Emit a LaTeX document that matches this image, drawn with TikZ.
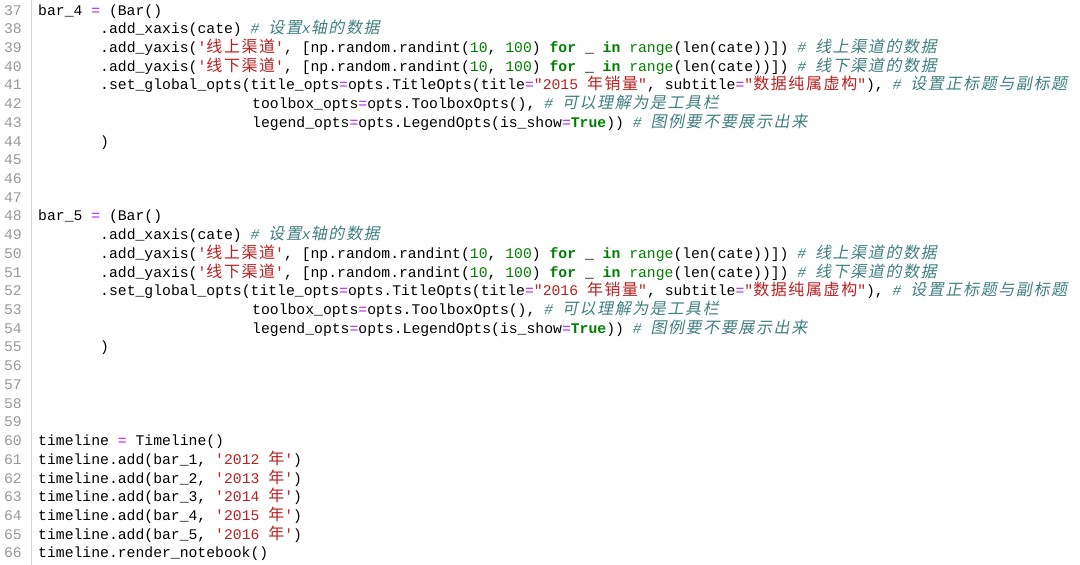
\documentclass[tikz,border=0pt]{standalone}
\usepackage{fontspec}
\setmonofont{Liberation Mono}
\newfontfamily\cjk[LetterSpace=10]{Noto Sans CJK SC}
\newfontfamily\cjki[LetterSpace=10,FakeSlant=0.2]{Noto Sans CJK SC}
\definecolor{cmt}{HTML}{408080}
\definecolor{strc}{HTML}{BA2121}
\definecolor{numc}{HTML}{008000}
\definecolor{kwc}{HTML}{008000}
\definecolor{opc}{HTML}{AA22FF}
\definecolor{lnc}{HTML}{999999}
\newcommand\cm[1]{{\color{cmt}\itshape #1}}
\newcommand\st[1]{{\color{strc}#1}}
\newcommand\nm[1]{{\color{numc}#1}}
\newcommand\kw[1]{{\color{kwc}\bfseries #1}}
\newcommand\bi[1]{{\color{kwc}#1}}
\newcommand\op{{\color{opc}=}}
\newcommand\zh[1]{{\cjk\fontsize{16}{16}\selectfont #1}}
\newcommand\zhi[1]{{\cjki\fontsize{16}{16}\selectfont #1}}
\begin{document}
\begin{tikzpicture}[x=1pt,y=1pt,
  code/.style={anchor=base west,inner sep=0pt,font=\ttfamily\fontsize{14.75}{17}\selectfont},
  lnum/.style={anchor=base east,inner sep=0pt,text=lnc,font=\ttfamily\fontsize{14.75}{17}\selectfont}]
\fill[white] (0,0) rectangle (1080,-565);
\useasboundingbox (0,0) rectangle (1080,-565);
\draw[gray!35,line width=0.8pt] (31,0) -- (31,-565);
\foreach \n in {37,...,66}{
  \node[lnum] (ln\n) at (22,{-15-(\n-37)*18.72}) {\n};
}
\def\X{38}\def\Xa{100}\def\Xb{252}
\newcommand\Y[1]{{-15-(#1-37)*18.72}}
\node[code] (l37) at (\X,\Y{37}) {bar\_4 \op{} (Bar()};
\node[code] (l38) at (\Xa,\Y{38}) {.add\_xaxis(cate) \cm{\# \zhi{设置}x\zhi{轴的数据}}};
\node[code] (l39) at (\Xa,\Y{39}) {.add\_yaxis(\st{'\zh{线上渠道}'}, [np.random.randint(\nm{10}, \nm{100}) \kw{for} \_ \kw{in} \bi{range}(len(cate))]) \cm{\# \zhi{线上渠道的数据}}};
\node[code] (l40) at (\Xa,\Y{40}) {.add\_yaxis(\st{'\zh{线下渠道}'}, [np.random.randint(\nm{10}, \nm{100}) \kw{for} \_ \kw{in} \bi{range}(len(cate))]) \cm{\# \zhi{线下渠道的数据}}};
\node[code] (l41) at (\Xa,\Y{41}) {.set\_global\_opts(title\_opts\op{}opts.TitleOpts(title\op{}\st{"2015 \zh{年销量}"}, subtitle\op{}\st{"\zh{数据纯属虚构}"}), \cm{\# \zhi{设置正标题与副标题}}};
\node[code] (l42) at (\Xb,\Y{42}) {toolbox\_opts\op{}opts.ToolboxOpts(), \cm{\# \zhi{可以理解为是工具栏}}};
\node[code] (l43) at (\Xb,\Y{43}) {legend\_opts\op{}opts.LegendOpts(is\_show\op{}\kw{True})) \cm{\# \zhi{图例要不要展示出来}}};
\node[code] (l44) at (\Xa,\Y{44}) {)};
\node[code] (l48) at (\X,\Y{48}) {bar\_5 \op{} (Bar()};
\node[code] (l49) at (\Xa,\Y{49}) {.add\_xaxis(cate) \cm{\# \zhi{设置}x\zhi{轴的数据}}};
\node[code] (l50) at (\Xa,\Y{50}) {.add\_yaxis(\st{'\zh{线上渠道}'}, [np.random.randint(\nm{10}, \nm{100}) \kw{for} \_ \kw{in} \bi{range}(len(cate))]) \cm{\# \zhi{线上渠道的数据}}};
\node[code] (l51) at (\Xa,\Y{51}) {.add\_yaxis(\st{'\zh{线下渠道}'}, [np.random.randint(\nm{10}, \nm{100}) \kw{for} \_ \kw{in} \bi{range}(len(cate))]) \cm{\# \zhi{线下渠道的数据}}};
\node[code] (l52) at (\Xa,\Y{52}) {.set\_global\_opts(title\_opts\op{}opts.TitleOpts(title\op{}\st{"2016 \zh{年销量}"}, subtitle\op{}\st{"\zh{数据纯属虚构}"}), \cm{\# \zhi{设置正标题与副标题}}};
\node[code] (l53) at (\Xb,\Y{53}) {toolbox\_opts\op{}opts.ToolboxOpts(), \cm{\# \zhi{可以理解为是工具栏}}};
\node[code] (l54) at (\Xb,\Y{54}) {legend\_opts\op{}opts.LegendOpts(is\_show\op{}\kw{True})) \cm{\# \zhi{图例要不要展示出来}}};
\node[code] (l55) at (\Xa,\Y{55}) {)};
\node[code] (l60) at (\X,\Y{60}) {timeline \op{} Timeline()};
\node[code] (l61) at (\X,\Y{61}) {timeline.add(bar\_1, \st{'2012 \zh{年}'})};
\node[code] (l62) at (\X,\Y{62}) {timeline.add(bar\_2, \st{'2013 \zh{年}'})};
\node[code] (l63) at (\X,\Y{63}) {timeline.add(bar\_3, \st{'2014 \zh{年}'})};
\node[code] (l64) at (\X,\Y{64}) {timeline.add(bar\_4, \st{'2015 \zh{年}'})};
\node[code] (l65) at (\X,\Y{65}) {timeline.add(bar\_5, \st{'2016 \zh{年}'})};
\node[code] (l66) at (\X,\Y{66}) {timeline.render\_notebook()};
\end{tikzpicture}
\end{document}
